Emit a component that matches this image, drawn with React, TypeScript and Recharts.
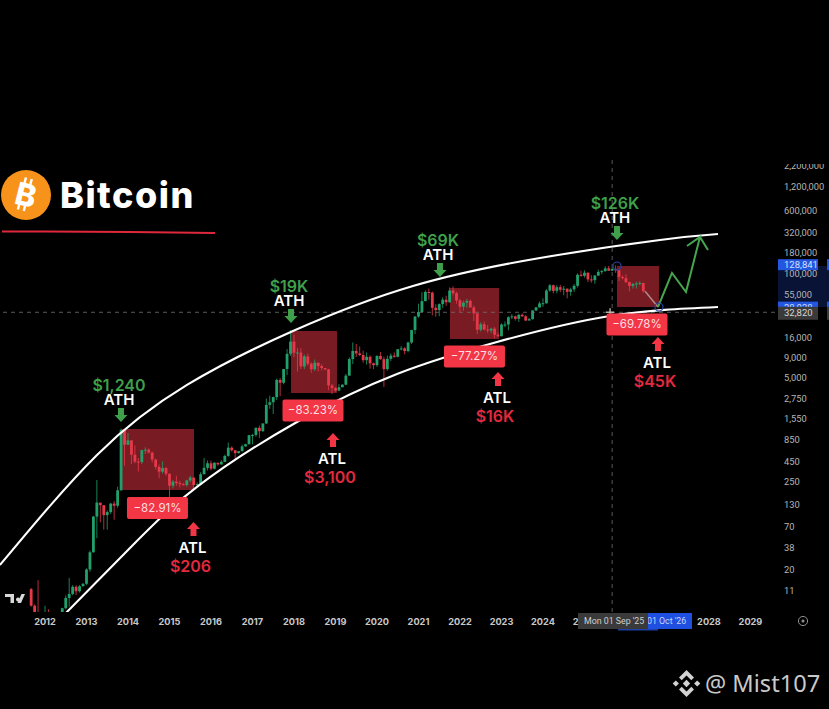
import React from 'react';
import { ComposedChart, Bar, Line, XAxis, YAxis, ReferenceArea, ReferenceDot, ReferenceLine } from 'recharts';

// Monthly BTC candles starting Sep 2011
const firstMonth = 2011 + 8 / 12;
const firstOpen = 11.6;
const closes = [
  7.2, 5, 3, 4.7,
  5.5, 4.9, 4.9, 5, 5.1, 6.7, 9, 10.1, 12.4, 10.9, 12.6, 13.5,
  20.4, 33.4, 93, 139, 129, 97, 106, 135, 127, 198, 1120, 732,
  830, 550, 450, 445, 627, 635, 585, 478, 387, 338, 375, 318,
  226, 254, 244, 236, 230, 263, 285, 230, 236, 314, 377, 430,
  368, 437, 416, 448, 531, 673, 624, 575, 609, 698, 742, 963,
  970, 1190, 1080, 1348, 2300, 2480, 2875, 4700, 4340, 6440, 9950, 14156,
  10265, 10330, 6930, 9245, 7495, 6390, 7730, 7010, 6625, 6370, 4020, 3740,
  3460, 3815, 4105, 5320, 8570, 10820, 10080, 9630, 8300, 9150, 7570, 7190,
  9350, 8540, 6410, 8620, 9450, 9140, 11350, 11650, 10780, 13800, 19700, 29000,
  33100, 45200, 58800, 57700, 37300, 35000, 41500, 47100, 43800, 61300, 57000, 46200,
  38500, 43200, 45500, 37700, 31800, 19900, 23300, 20000, 19400, 20500, 17200, 16500,
  23100, 23100, 28500, 29200, 27200, 30500, 29200, 25900, 27000, 34600, 37700, 42300,
  42600, 61200, 71300, 60700, 67500, 62700, 64600, 59000, 63300, 70200, 96400, 93400,
  102400, 84300, 82500, 94200, 104600, 107100, 115800, 108200, 114000, 109500, 90400, 87500,
  78000, 70000, 74000, 75000, 76000, 60000,
];
const highs = [
  12, 7.5, 15, 4.8,
  7.2, 6.5, 5.5, 5.4, 5.4, 6.8, 9.7, 16, 13, 13, 13, 13.8,
  21, 35, 95, 266, 135, 129, 111, 138, 145, 220, 1163, 1150,
  1024, 830, 720, 500, 633, 680, 660, 600, 490, 415, 455, 385,
  320, 265, 300, 260, 245, 268, 300, 285, 247, 333, 500, 465,
  465, 443, 420, 468, 550, 780, 700, 625, 613, 735, 752, 970,
  1000, 1200, 1270, 1350, 2760, 2990, 2915, 4900, 4970, 6470, 11400, 19700,
  17250, 11780, 11700, 9760, 10000, 7780, 8450, 7400, 7400, 6620, 6470, 4200,
  3810, 4200, 4150, 5600, 9000, 13800, 13200, 12300, 10900, 10350, 9500, 7740,
  9575, 10500, 9190, 9470, 10070, 10370, 11420, 12480, 12080, 14100, 19850, 29300,
  41950, 58300, 61800, 64900, 59500, 41300, 42300, 50500, 52900, 67000, 69000, 59000,
  47900, 45800, 48200, 47400, 40000, 32400, 24700, 25200, 22800, 21000, 21500, 18400,
  23900, 25200, 29200, 31000, 29800, 31400, 31800, 30200, 28000, 35000, 38400, 44700,
  48900, 64000, 73800, 72800, 71900, 72000, 70000, 65000, 66500, 73600, 99800, 108300,
  109600, 102500, 95000, 95500, 112000, 110500, 123200, 124500, 117900, 126200, 110700, 94600,
  97500, 79000, 76000, 79000, 80000, 77000,
];
const lows = [
  7, 4.5, 2, 2.8,
  4.2, 4.2, 4.7, 4.7, 4.9, 5.2, 6.5, 7, 9.7, 9.8, 10.5, 12.5,
  13, 19, 33, 50, 79, 64, 64, 100, 85, 120, 195, 400,
  730, 420, 430, 340, 420, 560, 570, 440, 360, 280, 320, 300,
  160, 210, 225, 215, 226, 220, 250, 198, 225, 234, 312, 350,
  350, 360, 400, 415, 445, 520, 600, 470, 570, 602, 690, 742,
  740, 920, 890, 1060, 1330, 2050, 1770, 2650, 2950, 4150, 5400, 9400,
  9100, 6000, 6430, 6430, 7100, 5780, 6070, 6000, 6200, 6200, 3500, 3150,
  3350, 3400, 3830, 4050, 5330, 7430, 9100, 9320, 7700, 7300, 6500, 6430,
  6860, 8400, 3850, 6150, 8100, 8900, 9000, 11000, 9850, 10400, 13200, 17600,
  28100, 32300, 45000, 47000, 30000, 28800, 29300, 37300, 39600, 43200, 53300, 42000,
  33000, 34300, 37200, 37600, 25400, 17600, 18900, 19500, 18200, 18100, 15500, 16300,
  16500, 21400, 19600, 26900, 25900, 24800, 28900, 25400, 26000, 26500, 34000, 37600,
  38500, 41900, 59200, 56500, 56500, 58400, 53500, 49000, 52600, 58900, 66800, 91000,
  89100, 78200, 76600, 74500, 93400, 98200, 105100, 107300, 107300, 102000, 80600, 84400,
  75700, 60000, 65000, 65000, 71000, 57000,
];

// Channel curves
const upperYears = [2010.916, 2013.253, 2015.422, 2017.976, 2020.867, 2023.928, 2026.819, 2028.217];
const upperPrices = [23.2, 545.8, 4074, 19190, 69820, 156000, 261800, 310500];
const lowerYears = [2012.41, 2014.048, 2015.663, 2018.072, 2020.482, 2022.892, 2025.614, 2028.217];
const lowerPrices = [5.21, 37.8, 217.8, 1406, 5585, 13990, 29510, 38190];

// Projection
const projYears = [2026.771, 2027.108, 2027.446, 2027.783, 2027.47, 2027.783, 2027.976];
const projPrices = [38190, 101400, 58750, 285100, 220300, 285100, 196300];
const fadeYears = [2026.46, 2026.771];
const fadePrices = [60000, 38190];

// Drawdown boxes
const boxStarts = [2013.843, 2017.928, 2021.759, 2025.783];
const boxEnds = [2015.59, 2019.036, 2022.94, 2026.795];
const boxTops = [1150, 19190, 65900, 124000];
const boxBottoms = [200, 3235, 15240, 38200];

// Annotations
const athYears = [2013.831, 2017.928, 2021.518, 2025.783];
const athPrices = [1406, 24150, 90360, 261800];
const athLabels = ['$1,240', '$19K', '$69K', '$126K'];
const atlYears = [2015.578, 2018.94, 2022.916, 2026.771];
const atlPrices = [79.6, 1026, 5915, 16140];
const atlLabels = ['$206', '$3,100', '$16K', '$45K'];
const dropYears = [2014.71, 2018.458, 2022.349, 2026.265];
const dropPrices = [119, 1958, 9226, 23120];
const dropLabels = ['−82.91%', '−83.23%', '−77.27%', '−69.78%'];

// Axes
const yearTicks = [2012, 2013, 2014, 2015, 2016, 2017, 2018, 2019, 2020, 2021, 2022, 2023, 2024, 2025, 2028, 2029];
const priceTicks = [11, 20, 38, 70, 130, 250, 450, 850, 1550, 2750, 5000, 9000, 16000, 55000, 100000, 180000, 320000, 600000, 1200000, 2200000];
const crossYear = 2025.667;
const crossPrice = 32820;
const targetHigh = 128841;
const targetLow = 38038;
const X_MIN = 2010.9157;
const X_MAX = 2029.591;
const Y_MIN = 6.01;
const Y_MAX = 2600000;

const GREEN = '#22a06b';
const RED = '#e5394a';
const FONT = 'Inter, Roboto, sans-serif';
const AXIS_FONT = 'Roboto, sans-serif';

const candles = closes.map((close, i) => {
  const open = i === 0 ? firstOpen : closes[i - 1];
  return { year: firstMonth + i / 12, open, close, high: highs[i], low: lows[i], range: [lows[i], highs[i]] };
});
const series = (xs: number[], ys: number[]) => xs.map((year, i) => ({ year, price: ys[i] }));

const Candle = (p: any) => {
  const { x, y, width, height, payload } = p;
  const top = Math.min(y, y + height);
  const h = Math.abs(height);
  const { open, close, high, low } = payload;
  const span = Math.log(high) - Math.log(low) || 1;
  const at = (v: number) => top + ((Math.log(high) - Math.log(v)) / span) * h;
  const up = close >= open;
  const bodyTop = at(Math.max(open, close));
  const bodyBottom = at(Math.min(open, close));
  const cx = x + width / 2;
  const fill = up ? GREEN : RED;
  return (
    <g>
      <line x1={cx} x2={cx} y1={top} y2={top + h} stroke={fill} strokeWidth={0.8} />
      <rect x={cx - 1.4} y={bodyTop} width={2.8} height={Math.max(1, bodyBottom - bodyTop)} fill={fill} />
    </g>
  );
};

const AthMark = (label: string) => (p: any) => {
  const { cx, cy } = p;
  return (
    <g fontFamily={FONT} textAnchor="middle">
      <polygon points={`${cx},${cy} ${cx - 6.5},${cy - 7} ${cx - 3},${cy - 7} ${cx - 3},${cy - 14} ${cx + 3},${cy - 14} ${cx + 3},${cy - 7} ${cx + 6.5},${cy - 7}`} fill="#3f9f4a" />
      <text x={cx - 2} y={cy - 17} fontSize={15} fontWeight={600} fill="#ffffff">ATH</text>
      <text x={cx - 2} y={cy - 31} fontSize={16} fontWeight={600} fill="#3f9f4a">{label}</text>
    </g>
  );
};
const AtlMark = (label: string) => (p: any) => {
  const { cx, cy } = p;
  return (
    <g fontFamily={FONT} textAnchor="middle">
      <polygon points={`${cx},${cy} ${cx - 6.5},${cy + 7} ${cx - 3},${cy + 7} ${cx - 3},${cy + 14} ${cx + 3},${cy + 14} ${cx + 3},${cy + 7} ${cx + 6.5},${cy + 7}`} fill="#f23645" />
      <text x={cx - 1} y={cy + 31} fontSize={15} fontWeight={600} fill="#ffffff">ATL</text>
      <text x={cx - 3} y={cy + 50} fontSize={16} fontWeight={600} fill="#e3293c">{label}</text>
    </g>
  );
};
const DropBadge = (label: string) => (p: any) => {
  const { cx, cy } = p;
  return (
    <g fontFamily={FONT}>
      <rect x={cx - 30.5} y={cy - 11} width={61} height={22} rx={2} fill="#f23645" />
      <text x={cx} y={cy + 4} textAnchor="middle" fontSize={11.5} fill="#ffdfe2">{label}</text>
    </g>
  );
};
const Ring = (p: any) => <circle cx={p.cx} cy={p.cy} r={4} fill="none" stroke="#2444a8" strokeWidth={1.2} />;
const Plus = (p: any) => (
  <path d={`M${p.cx - 4} ${p.cy}H${p.cx + 4}M${p.cx} ${p.cy - 4}V${p.cy + 4}`} stroke="#b9b2a8" strokeWidth={1.4} />
);
const PriceBadge = (label: string, bg: string, color: string, clipHeight = 11) => (p: any) => {
  const { cx, cy } = p;
  return (
    <g fontFamily={AXIS_FONT}>
      <rect x={cx + 3} y={cy - 5.5} width={40} height={clipHeight} fill={bg} />
      <rect x={cx + 52} y={cy - 5.5} width={2} height={clipHeight} fill={bg} />
      <text x={cx + 9} y={cy + 3.5} fontSize={9.5} fill={color}>{label}</text>
    </g>
  );
};
const TargetZone = (p: any) => <rect x={p.cx + 3} y={p.cy} width={51} height={41} fill="#1c46c8" fillOpacity={0.27} />;

const absolute = (left: number, top: number): React.CSSProperties => ({ position: 'absolute', left, top, whiteSpace: 'nowrap' });

export default function App() {
  return (
    <div style={{ position: 'absolute', left: 0, top: 0, width: 829, height: 709, background: '#000', overflow: 'hidden' }}>
      <ComposedChart width={829} height={709} data={candles} margin={{ top: 160, right: 0, bottom: 0, left: 0 }}>
        <XAxis
          dataKey="year"
          type="number"
          domain={[X_MIN, X_MAX]}
          ticks={yearTicks}
          interval={0}
          height={97}
          axisLine={false}
          tickLine={false}
          tickSize={0}
          tickMargin={6}
          allowDataOverflow
          tick={{ fill: '#c9c9c9', fontSize: 9.2, fontWeight: 700, fontFamily: FONT }}
          tickFormatter={(v: number) => String(v)}
        />
        <YAxis
          type="number"
          scale="log"
          orientation="right"
          domain={[Y_MIN, Y_MAX]}
          ticks={priceTicks}
          interval={0}
          width={54}
          axisLine={false}
          tickLine={false}
          tickSize={0}
          tickMargin={9}
          allowDataOverflow
          tick={{ fill: '#b5b5b5', fontSize: 9.3, fontFamily: AXIS_FONT }}
          tickFormatter={(v: number) => v.toLocaleString('en-US')}
        />
        <ReferenceLine y={crossPrice} stroke="#6f6f6f" strokeDasharray="4 4" strokeWidth={0.8} />
        <ReferenceLine x={crossYear} stroke="#6f6f6f" strokeDasharray="4 4" strokeWidth={0.8} />
        <Bar dataKey="range" barSize={3} shape={Candle} isAnimationActive={false} />
        {boxStarts.map((s, i) => (
          <ReferenceArea key={s} x1={s} x2={boxEnds[i]} y1={boxBottoms[i]} y2={boxTops[i]} fill="#f23645" fillOpacity={0.5} stroke="none" />
        ))}
        <Line data={series(upperYears, upperPrices)} dataKey="price" type="natural" stroke="#ffffff" strokeWidth={2.1} dot={false} activeDot={false} isAnimationActive={false} />
        <Line data={series(lowerYears, lowerPrices)} dataKey="price" type="natural" stroke="#ffffff" strokeWidth={2.1} dot={false} activeDot={false} isAnimationActive={false} />
        <Line data={series(fadeYears, fadePrices)} dataKey="price" type="linear" stroke="#b08a8a" strokeWidth={1.5} dot={false} activeDot={false} isAnimationActive={false} />
        <Line data={series(projYears, projPrices)} dataKey="price" type="linear" stroke="#46a650" strokeWidth={2} dot={false} activeDot={false} isAnimationActive={false} />
        <ReferenceDot x={boxStarts[3]} y={boxTops[3]} r={4} ifOverflow="visible" shape={Ring} />
        <ReferenceDot x={boxEnds[3]} y={boxBottoms[3]} r={4} ifOverflow="visible" shape={Ring} />
        <ReferenceDot x={X_MAX} y={boxTops[3]} r={1} ifOverflow="visible" shape={TargetZone} />
        <ReferenceDot x={X_MAX} y={targetHigh} r={1} ifOverflow="visible" shape={PriceBadge('128,841', '#2456e0', '#d5e0ff')} />
        <ReferenceDot x={X_MAX} y={targetLow} r={1} ifOverflow="visible" shape={PriceBadge('38,038', '#2456e0', '#d5e0ff')} />
        <ReferenceDot x={X_MAX} y={crossPrice} r={1} ifOverflow="visible" shape={PriceBadge('32,820', '#3a3a3a', '#d6d6d6', 13)} />
        <ReferenceDot x={crossYear - 0.05} y={crossPrice} r={1} ifOverflow="visible" shape={Plus} />
        {athYears.map((y, i) => (
          <ReferenceDot key={y} x={y} y={athPrices[i]} r={1} ifOverflow="visible" shape={AthMark(athLabels[i])} />
        ))}
        {atlYears.map((y, i) => (
          <ReferenceDot key={y} x={y} y={atlPrices[i]} r={1} ifOverflow="visible" shape={AtlMark(atlLabels[i])} />
        ))}
        {dropYears.map((y, i) => (
          <ReferenceDot key={y} x={y} y={dropPrices[i]} r={1} ifOverflow="visible" shape={DropBadge(dropLabels[i])} />
        ))}
      </ComposedChart>

      {/* Top edge of the price scale is cut off in the source */}
      <div style={{ position: 'absolute', left: 778, top: 150, width: 51, height: 14, background: '#000' }} />

      {/* Crosshair date badges, above the axis labels */}
      <svg style={absolute(570, 610)} width={130} height={24} fontFamily={AXIS_FONT} fontSize={8.8}>
        <rect x={48} y={19} width={40} height={1.5} fill="#1d3fa8" />
        <rect x={78} y={3} width={44} height={16} fill="#1f4fe0" />
        <text x={77} y={14} fill="#c6d4ff">01 Oct '26</text>
        <rect x={8} y={3} width={70} height={16} fill="#3a3a3a" />
        <text x={14} y={14} fill="#cfcfcf">Mon 01 Sep '25</text>
      </svg>

      {/* Title block */}
      <svg style={absolute(0, 165)} width={225} height={75}>
        <circle cx={26} cy={30} r={25} fill="#f7931a" />
        <g transform="rotate(14 26 30)" fill="#fff">
          <text x={26} y={41} textAnchor="middle" fontSize={31} fontWeight={800} fontFamily="Inter, sans-serif">B</text>
          <rect x={20.5} y={13} width={2.4} height={6} />
          <rect x={26.5} y={13} width={2.4} height={6} />
          <rect x={20.5} y={40} width={2.4} height={6} />
          <rect x={26.5} y={40} width={2.4} height={6} />
        </g>
        <path d="M2 66.5 Q110 66 215 68" fill="none" stroke="#e0283c" strokeWidth={2} />
      </svg>
      <div style={{ ...absolute(60, 172), color: '#fff', fontFamily: 'Inter, sans-serif', fontWeight: 800, fontSize: 36, letterSpacing: 1.5, lineHeight: '46px' }}>Bitcoin</div>

      {/* TradingView mark */}
      <svg style={absolute(4, 592)} width={24} height={14}>
        <path d="M1 2h9v9H6.5V5H1z M14 5.5a2 2 0 1 0 0.01 0z M21 2h-3.5l-4 9H17z" fill="#d8d8d8" />
      </svg>

      {/* Scale settings icon */}
      <svg style={absolute(796, 614)} width={14} height={14}>
        <circle cx={7} cy={7} r={4.6} fill="none" stroke="#8f8f8f" strokeWidth={1} />
        <circle cx={7} cy={7} r={1.5} fill="#8f8f8f" />
      </svg>

      {/* Watermark */}
      <svg style={absolute(672, 669)} width={29} height={29}>
        <g fill="#d2d2d2" transform="translate(14.5 14.5)">
          <rect x={-2.6} y={-2.6} width={5.2} height={5.2} transform="rotate(45)" />
          <rect x={-12.9} y={-2.2} width={4.4} height={4.4} transform="rotate(45 -10.7 0)" />
          <rect x={8.5} y={-2.2} width={4.4} height={4.4} transform="rotate(45 10.7 0)" />
          <path d="M0 -13.5 L7.5 -6 L4.8 -3.3 L0 -8.1 L-4.8 -3.3 L-7.5 -6Z" />
          <path d="M0 13.5 L7.5 6 L4.8 3.3 L0 8.1 L-4.8 3.3 L-7.5 6Z" />
        </g>
      </svg>
      <div style={{ ...absolute(705, 666), color: '#c9c9c9', fontFamily: '"Noto Sans", sans-serif', fontSize: 23.6, lineHeight: '34px' }}>@ Mist107</div>
    </div>
  );
}
